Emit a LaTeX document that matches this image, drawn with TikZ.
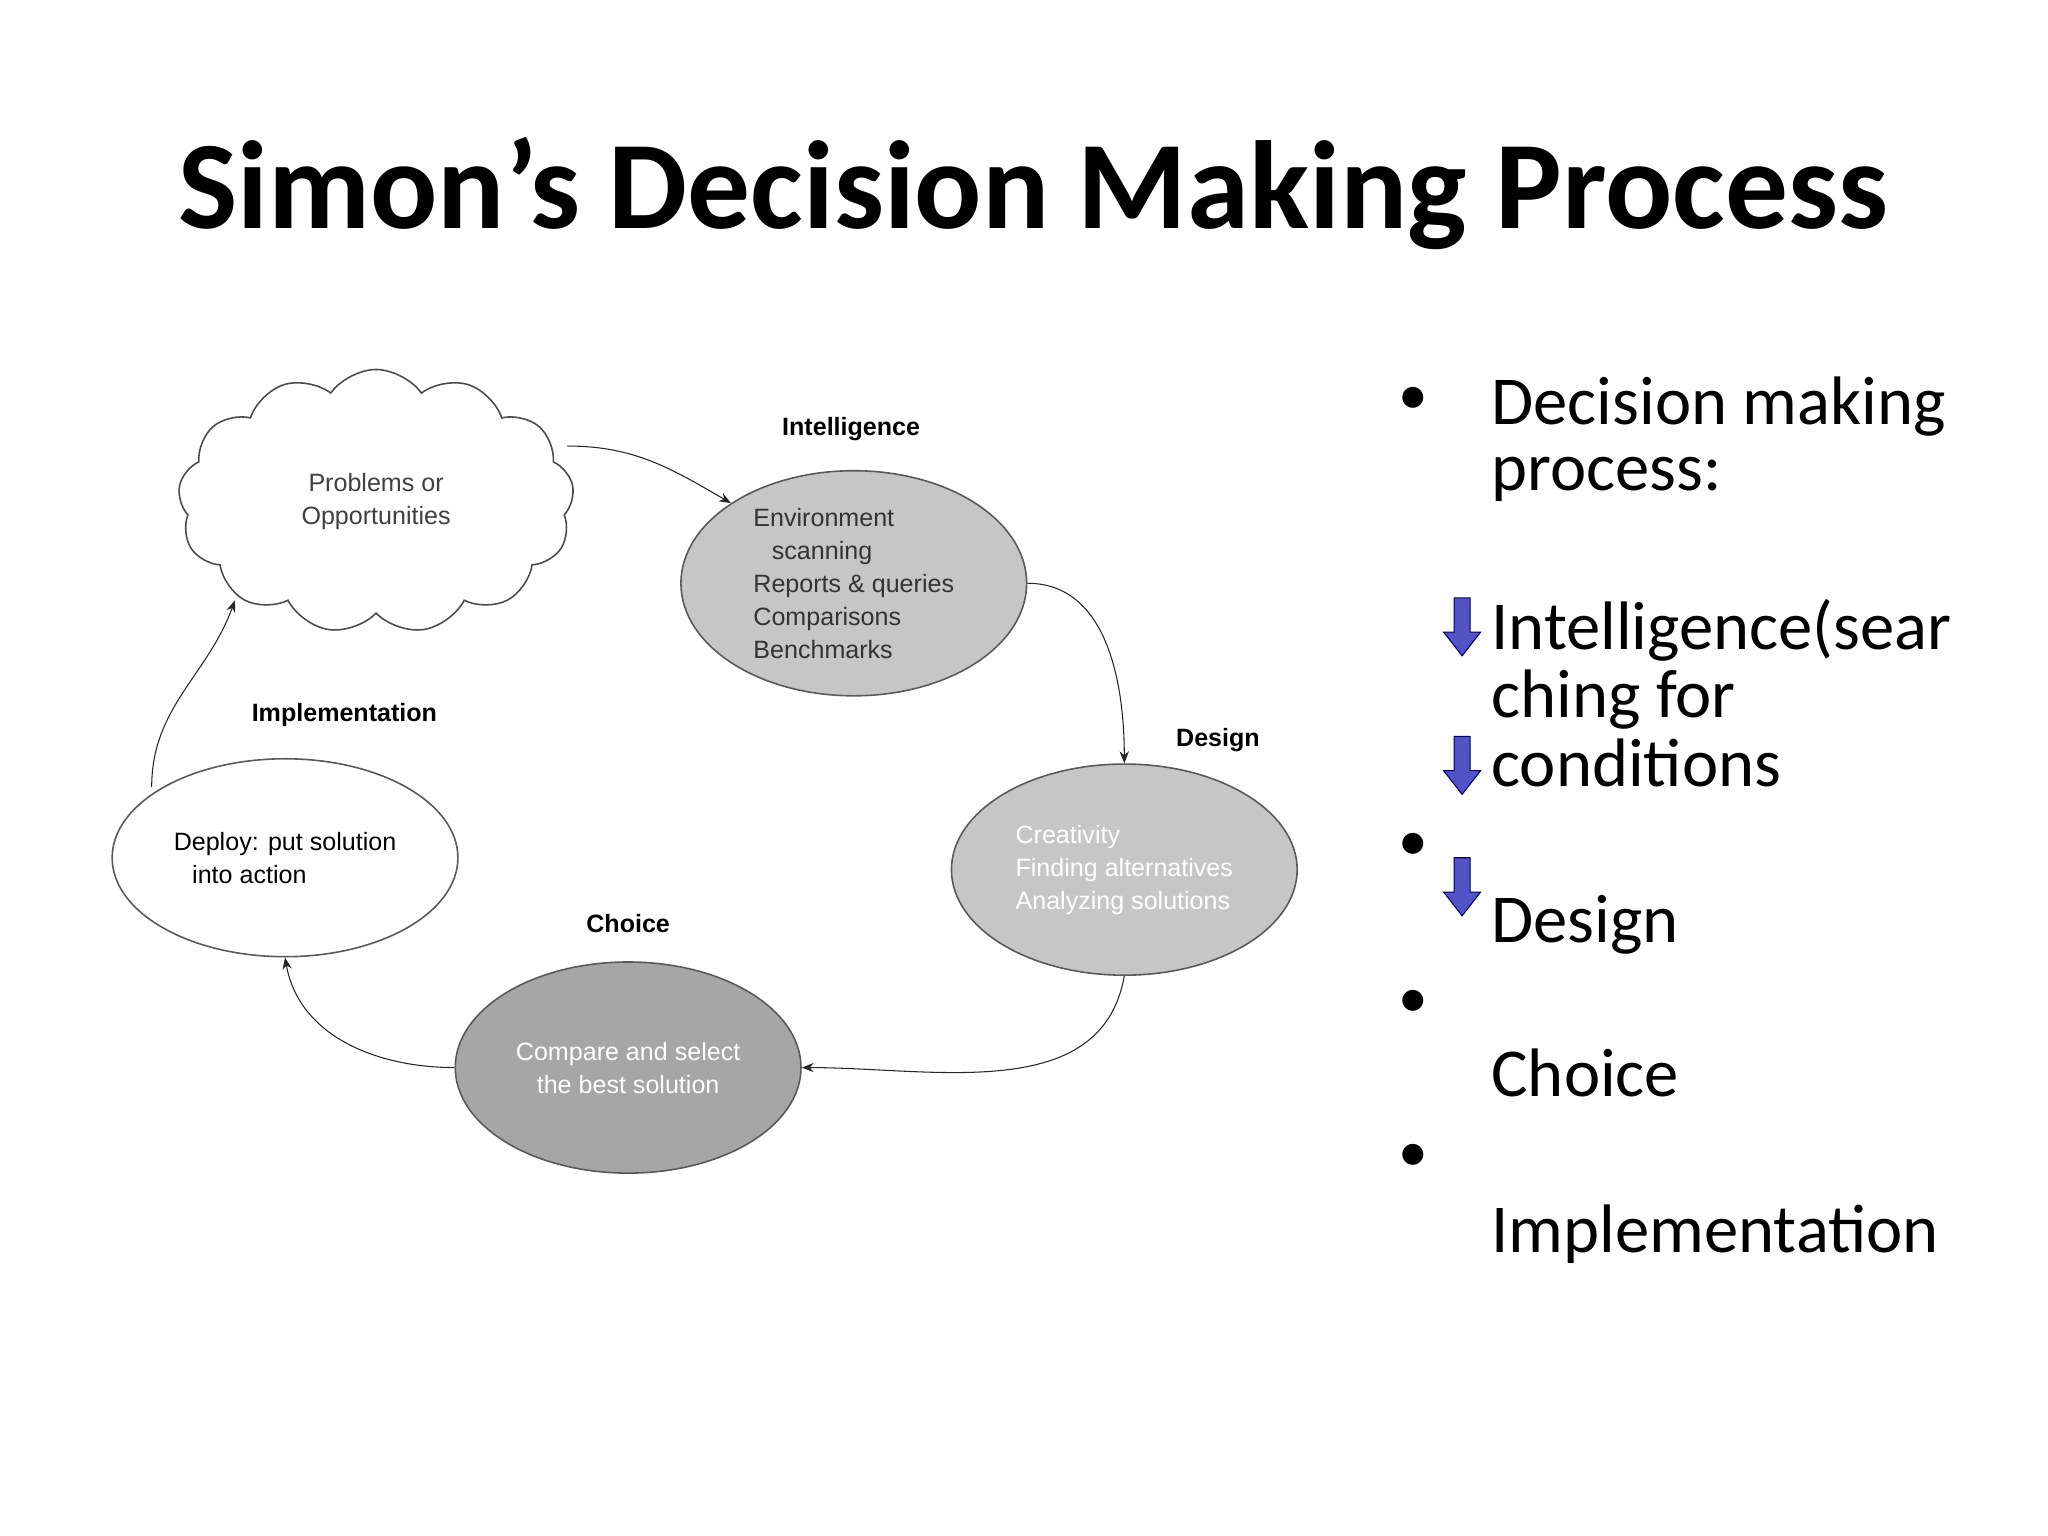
\documentclass[tikz,border=0pt]{standalone}
\usepackage{fontspec}
\setmainfont{Carlito}
\newfontfamily\diagfont{Liberation Sans}
\usetikzlibrary{shapes.symbols,shapes.arrows,shapes.geometric,arrows.meta}
\begin{document}
\begin{tikzpicture}[x=1pt,y=-1pt,
  phase/.style={ellipse,draw=gray!70!black,line width=1.2pt,minimum width=262pt,font=\diagfont\fontsize{19}{25}\selectfont,align=left},
  lbl/.style={font=\diagfont\bfseries\fontsize{19}{22}\selectfont},
  conn/.style={-{Stealth[length=9pt,width=7pt]},gray!30!black,line width=0.8pt},
  btxt/.style={anchor=base west,font=\fontsize{52}{52}\selectfont,inner sep=0pt},
  bul/.style={anchor=base,font=\fontsize{45}{52}\selectfont,inner sep=0pt},
  darr/.style={draw=blue!40!black,fill=blue!50!gray!90,line width=0.8pt}]
\useasboundingbox (0,0) rectangle (1552,1164);
\fill[white] (0,0) rectangle (1552,1164);
\node[font=\bfseries\fontsize{95}{100}\selectfont] (title) at (783,147) {Simon’s Decision Making Process};
% diagram
\node[cloud,cloud puffs=13,cloud puff arc=110,aspect=1.5,draw=gray!60!black,line width=1.2pt,minimum width=300pt,minimum height=200pt,font=\diagfont\fontsize{19}{25}\selectfont,text=gray!50!black,align=center] (cloud) at (285,380) {Problems or\\Opportunities};
\node[lbl] (li) at (645,325) {Intelligence};
\node[phase,fill=gray!45,minimum height=140pt,text=gray!40!black] (intel) at (647,442) {Environment\\\hspace*{14pt}scanning\\Reports \& queries\\Comparisons\\Benchmarks};
\node[lbl] (ld) at (923,561) {Design};
\node[phase,fill=gray!45,minimum height=160pt,text=white] (design) at (852,659) {Creativity\\Finding alternatives\\Analyzing solutions};
\node[lbl] (lc) at (476,700) {Choice};
\node[phase,fill=gray!70,minimum height=160pt,text=white,align=center] (choice) at (476,809) {Compare and select\\the best solution};
\node[lbl] (lm) at (261,542) {Implementation};
\node[phase,fill=white,minimum height=150pt,text=black] (impl) at (216,650) {Deploy: put solution\\\hspace*{14pt}into action};
\draw[conn] (cloud.east) ++(-4,-42) coordinate (c1) to[out=0,in=150] (intel.north west);
\draw[conn] (intel.east) to[out=0,in=90] (design.north);
\draw[conn] (design.south) to[out=-100,in=0] (choice.east);
\draw[conn] (choice.west) to[out=180,in=-80] (impl.south);
\draw[conn] (impl.north west) ++(-8,0) coordinate (i1) to[out=90,in=-110] (178,455) coordinate (c2);
% bullets
\node[bul] (b1) at (1071,314) {•};
\node[btxt] (t1) at (1130,322) {Decision making};
\node[btxt] (t2) at (1130,372) {process:};
\foreach \n/\y in {a1/475,a2/580,a3/672}{
  \coordinate (\n) at (1108,\y);
  \draw[darr] (\n) ++(-6,-22) -- ++(12,0) -- ++(0,26) -- ++(8,0) -- ++(-14,18) -- ++(-14,-18) -- ++(8,0) -- cycle;
}
\node[btxt] (t3) at (1130,492) {Intelligence(sear};
\node[btxt] (t4) at (1130,544) {ching for};
\node[btxt] (t5) at (1130,596) {conditions};
\node[bul] (b2) at (1071,652) {•};
\node[btxt] (t6) at (1130,714) {Design};
\node[bul] (b3) at (1071,771) {•};
\node[btxt] (t7) at (1130,831) {Choice};
\node[bul] (b4) at (1071,888) {•};
\node[btxt] (t8) at (1130,949) {Implementation};
\end{tikzpicture}
\end{document}
